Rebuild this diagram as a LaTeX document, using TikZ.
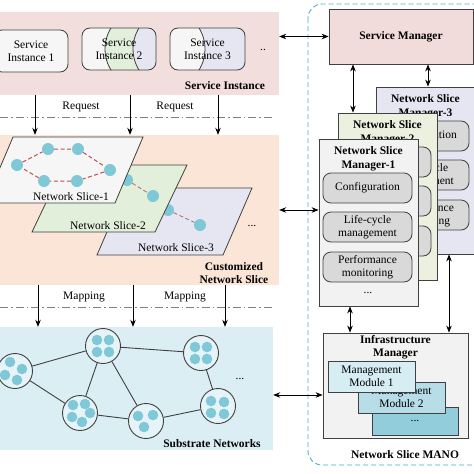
\documentclass[tikz,border=0pt]{standalone}
\usepackage{fontspec}
\setmainfont{Liberation Serif}
\usepackage{xcolor}
\usetikzlibrary{arrows.meta}
\definecolor{edge}{HTML}{404040}
\definecolor{sipink}{HTML}{F2DEDC}
\definecolor{nspeach}{HTML}{FBE5D6}
\definecolor{subblue}{HTML}{DAEEF3}
\definecolor{sifill}{HTML}{F6F6F6}
\definecolor{sigreen}{HTML}{E2EFDA}
\definecolor{silav}{HTML}{E6E6F2}
\definecolor{dotblue}{HTML}{7FC8D8}
\definecolor{sitefill}{HTML}{E6F4F8}
\definecolor{ringred}{HTML}{C0504D}
\definecolor{chainbrown}{HTML}{A07060}
\definecolor{manoblue}{HTML}{4BACC6}
\definecolor{smpink}{HTML}{F2DCDB}
\definecolor{subgray}{HTML}{D9D9D9}
\definecolor{mgrgray}{HTML}{F2F2F2}
\definecolor{mgrgreen}{HTML}{EBF1DE}
\definecolor{modA}{HTML}{D6EDF3}
\definecolor{modB}{HTML}{B7DEE8}
\definecolor{modC}{HTML}{92CDDC}
\tikzset{
  band/.style={inner sep=0pt},
  sibox/.style={draw=edge,line width=0.8pt,rounded corners=8pt,minimum width=74pt,minimum height=42pt,align=center,inner sep=1pt},
  mgr/.style={draw=edge,line width=0.8pt,minimum width=99pt,minimum height=167pt},
  sub/.style={draw=edge,fill=subgray,line width=0.8pt,rounded corners=8pt,minimum width=89pt,minimum height=30pt,align=center,inner sep=1pt},
  modbox/.style={draw=edge,line width=0.8pt,minimum width=87pt,minimum height=31pt,align=center,inner sep=1pt},
  title/.style={font=\bfseries,align=center,inner sep=0pt},
  lbl/.style={align=center,inner sep=0pt},
  dot/.style={circle,fill=dotblue,minimum size=12pt,inner sep=0pt},
  site/.style={circle,draw=edge,fill=sitefill,line width=0.9pt,minimum size=35pt,inner sep=0pt},
  slice/.style={draw=edge,line width=0.8pt},
  link/.style={line width=0.8pt,{Stealth[length=7pt,width=5.5pt]}-{Stealth[length=7pt,width=5.5pt]}},
  flow/.style={line width=0.8pt,-{Stealth[length=7pt,width=5.5pt]}},
  sep/.style={gray,line width=0.6pt,dash pattern=on 8pt off 3pt on 1.5pt off 3pt},
  ring/.style={draw=ringred,line width=1pt,dash pattern=on 4pt off 2.5pt},
  chain/.style={draw=chainbrown,line width=0.8pt,dash pattern=on 4pt off 2.5pt},
  wire/.style={draw=edge,line width=0.9pt},
  mano/.style={draw=manoblue,line width=0.9pt,dash pattern=on 5pt off 3pt,rounded corners=14pt}
}
% one network slice manager, shifted by (#1,#2)
\newcommand{\nsm}[4]{%
  \begin{scope}[shift={(#1,#2)}]
    \node[mgr,fill=#3] (nsm#4) at (368.5,222.5) {};
    \node[title] (nsm#4t) at (368.5,159) {Network Slice\\Manager-#4};
    \node[sub] (nsm#4a) at (367.5,188) {Configuration};
    \node[sub] (nsm#4b) at (367.5,227) {Life-cycle\\management};
    \node[sub] (nsm#4c) at (367.5,267) {Performance\\monitoring};
    \node[lbl] (nsm#4d) at (368,293) {...};
  \end{scope}}
% one substrate site with its grains
\newcommand{\site}[4]{%
  \node[site] (#1) at (#2,#3) {};
  \foreach \dx/\dy in {#4} \fill[dotblue] ([shift={(\dx,\dy)}]#1) circle (5.3pt);}

\begin{document}
\fontsize{11.5}{13.5}\selectfont
\begin{tikzpicture}[x=1pt,y=-1pt]
\useasboundingbox (0,0) rectangle (474,474);
\clip (0,0) rectangle (474,474);

% bands
\node[band,fill=sipink,minimum width=279pt,minimum height=83pt] (si) at (139.5,53.5) {};
\node[band,fill=nspeach,minimum width=279pt,minimum height=150pt] (cns) at (139.5,210) {};
\node[band,fill=subblue,minimum width=273pt,minimum height=123pt] (sub) at (136.5,388.5) {};

% service instances
\node[sibox,fill=sifill] (si1) at (31,51) {Service\\Instance 1};
\begin{scope}
  \clip[rounded corners=8pt] (82,28) rectangle (156,70);
  \fill[sifill] (82,28) rectangle (156,70);
  \draw[wire,line width=0.8pt,fill=sigreen] (145,49) circle (40pt);
  \draw[wire,line width=0.8pt,fill=silav] (173,49) circle (40pt);
\end{scope}
\node[sibox] (si2) at (119,49) {Service\\Instance 2};
\begin{scope}
  \clip[rounded corners=8pt] (170,28) rectangle (245,70);
  \fill[silav] (170,28) rectangle (245,70);
  \draw[wire,line width=0.8pt,fill=sifill] (165,49) circle (40pt);
\end{scope}
\node[sibox,minimum width=75pt] (si3) at (207.5,49) {Service\\Instance 3};
\node[lbl] (sidots) at (263,50) {..};
\node[title] (sititle) at (225,86) {Service Instance};

% requests
\draw[sep] (0,117) -- (274,117);
\foreach \x in {35,130,218} \draw[flow] (si.south -| \x,0) -- (cns.north -| \x,0);
\node[lbl,fill=white,inner sep=1pt] (req1) at (81,107) {Request};
\node[lbl,fill=white,inner sep=1pt] (req2) at (175,107) {Request};

% slices, back to front
\draw[slice,fill=silav] (126,188) -- (252,188) -- (223,255) -- (97,255) -- cycle;
\node[dot] (s3a) at (168,210) {};
\node[dot] (s3b) at (200,225) {};
\draw[chain] (s3a) -- (s3b);
\node[lbl] (s3) at (176,248) {Network Slice-3};

\draw[slice,fill=sigreen] (64,165) -- (187,165) -- (155,232) -- (32,232) -- cycle;
\node[dot] (s2a) at (127,180) {};
\node[dot] (s2b) at (153,196) {};
\draw[chain] (s2a) -- (s2b);
\node[lbl] (s2) at (108,226) {Network Slice-2};

\draw[slice,fill=sifill] (13,137) -- (143,137) -- (115,203) -- (-15,203) -- cycle;
\node[dot] (s1a) at (17,165) {};
\node[dot] (s1b) at (48,149) {};
\node[dot] (s1c) at (78,149) {};
\node[dot] (s1d) at (110,170) {};
\node[dot] (s1e) at (77,181) {};
\node[dot] (s1f) at (44,181) {};
\draw[ring] (s1a) -- (s1b) -- (s1c) -- (s1d) -- (s1e) -- (s1f) -- (s1a);
\node[lbl] (s1) at (71,197) {Network Slice-1};
\node[lbl] (sldots) at (252,226) {...};
\node[title] (cnstitle) at (234,273) {Customized\\Network Slice};

% mappings
\draw[sep] (0,307) -- (274,307);
\foreach \x in {38,133,225} \draw[flow] (cns.south -| \x,0) -- (sub.north -| \x,0);
\node[lbl,fill=white,inner sep=1pt] (map1) at (84,297) {Mapping};
\node[lbl,fill=white,inner sep=1pt] (map2) at (185,297) {Mapping};

% substrate
\site{na}{15}{371}{-5/-9,7/-2,-10/4,2/9}
\site{nb}{103}{346}{-6/-6,6/-6,-6/6,6/6}
\site{nc}{201}{353}{-6/-6,6/-6,-6/6,6/6}
\site{nd}{80}{413}{-7/-8,5/-9,10/0,-8/4,2/9}
\site{ne}{146}{421}{-8/-5,7/-6,-2/6}
\site{nf}{218}{406}{-7/-5,6/-4,-7/7,6/8}
\draw[wire] (na) -- (nb);
\draw[wire] (na) -- (nd);
\draw[wire] (nb) -- (nc);
\draw[wire] (nb) -- (nd);
\draw[wire] (nb) -- (ne);
\draw[wire] (nd) -- (ne);
\draw[wire] (ne) -- (nf);
\draw[wire] (nc) -- (nf);
\node[lbl] (subdots) at (240,379) {...};
\node[title] (subtitle) at (212,444) {Substrate Networks};

% MANO
\draw[mano] (308,4) rectangle (500,465);
\node[title] (manotitle) at (405,455) {Network Slice MANO};
\node[draw=edge,line width=0.8pt,fill=smpink,minimum width=144pt,minimum height=55pt,font=\bfseries] (sm) at (401,36.5) {Service Manager};
\nsm{57}{-52}{silav}{3}
\nsm{19}{-26}{mgrgreen}{2}
\nsm{0}{0}{mgrgray}{1}
\node[draw=edge,line width=0.8pt,fill=mgrgray,minimum width=145pt,minimum height=105pt] (infra) at (395.5,385.5) {};
\node[title] (infrat) at (395.5,347) {Infrastructure\\Manager};
\node[modbox,fill=modC,minimum width=86pt,minimum height=28pt] (mod3) at (415,421) {...};
\node[modbox,fill=modB] (mod2) at (401.5,397.5) {Management\\Module 2};
\node[modbox,fill=modA] (mod1) at (371.5,376.5) {Management\\Module 1};

% links
\draw[link] (si.east |- sm) -- (sm.west);
\draw[link] (cns.east |- 0,210) -- (nsm1.west |- 0,210);
\draw[link] (sub.east |- 0,395) -- (infra.west |- 0,395);
\draw[link] (sm.south -| 353,0) -- (nsm2.north -| 353,0);
\draw[link] (sm.south -| 428,0) -- (nsm3.north -| 428,0);
\draw[link] (nsm1.south -| 350,0) -- (infra.north -| 350,0);
\draw[link] (nsm3.south -| 449,0) -- (infra.north -| 449,0);
\end{tikzpicture}
\end{document}
